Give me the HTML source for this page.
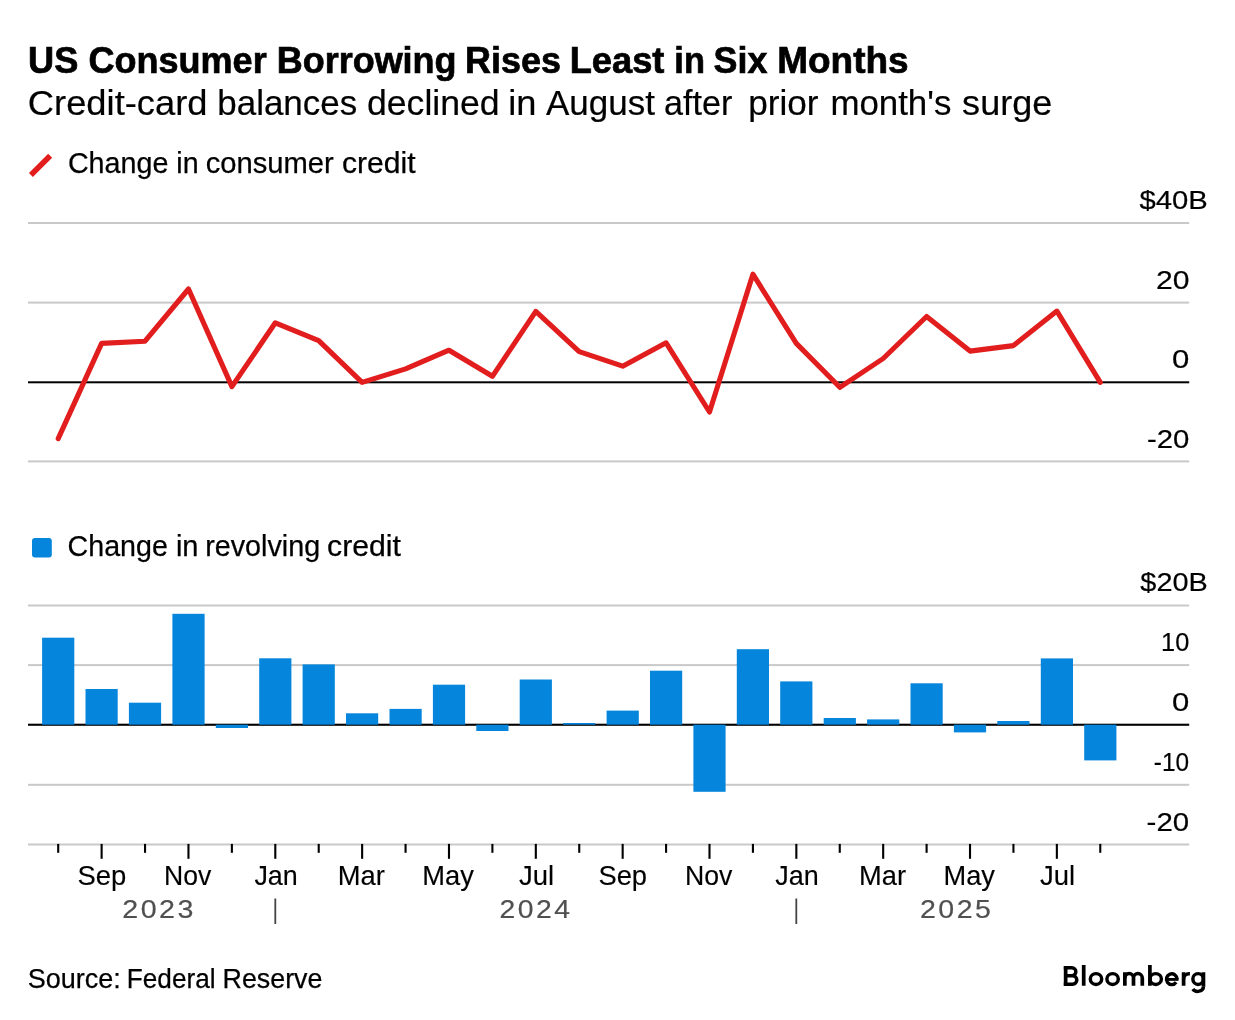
<!DOCTYPE html>
<html><head><meta charset="utf-8"><title>US Consumer Borrowing Rises Least in Six Months</title>
<style>html,body{margin:0;padding:0;background:#fff}body{width:1235px;height:1020px;position:relative;overflow:hidden;font-family:"Liberation Sans",sans-serif}</style>
</head><body>
<svg width="1235" height="1020" viewBox="0 0 1235 1020" style="position:absolute;left:0;top:0;will-change:transform">
<rect x="28" y="222" width="1161.2" height="2" fill="#c9c9c9"/>
<rect x="28" y="301.6" width="1161.2" height="2" fill="#c9c9c9"/>
<rect x="28" y="460.4" width="1161.2" height="2" fill="#c9c9c9"/>
<rect x="28" y="381.3" width="1161.2" height="2" fill="#000"/>
<polyline points="58.2,438.6 101.6,343.4 145.0,341.2 188.5,289.0 231.9,386.6 275.3,322.8 318.7,340.6 362.1,382.4 405.6,368.9 449.0,350.2 492.4,376.3 535.8,311.4 579.2,351.6 622.7,366.2 666.1,342.8 709.5,412.0 752.9,274.2 796.3,343.4 839.8,387.3 883.2,358.5 926.6,316.5 970.0,351.1 1013.4,345.6 1056.9,311.1 1100.3,382.3" fill="none" stroke="#e11e1d" stroke-width="5.1" stroke-linejoin="round" stroke-linecap="round"/>
<rect x="28" y="604.5" width="1161.2" height="2" fill="#c9c9c9"/>
<rect x="28" y="664.1" width="1161.2" height="2" fill="#c9c9c9"/>
<rect x="28" y="783.8" width="1161.2" height="2" fill="#c9c9c9"/>
<rect x="28" y="843.5" width="1161.2" height="2" fill="#c9c9c9"/>
<rect x="28" y="723.7" width="1161.2" height="2.1" fill="#000"/>
<rect x="42.1" y="637.7" width="32.2" height="87.0" fill="#0685dc"/>
<rect x="85.5" y="689.0" width="32.2" height="35.7" fill="#0685dc"/>
<rect x="128.9" y="702.7" width="32.2" height="22.0" fill="#0685dc"/>
<rect x="172.4" y="613.8" width="32.2" height="110.9" fill="#0685dc"/>
<rect x="215.8" y="724.7" width="32.2" height="3.3" fill="#0685dc"/>
<rect x="259.2" y="658.3" width="32.2" height="66.4" fill="#0685dc"/>
<rect x="302.6" y="664.4" width="32.2" height="60.3" fill="#0685dc"/>
<rect x="346.0" y="713.3" width="32.2" height="11.4" fill="#0685dc"/>
<rect x="389.5" y="708.9" width="32.2" height="15.8" fill="#0685dc"/>
<rect x="432.9" y="684.7" width="32.2" height="40.0" fill="#0685dc"/>
<rect x="476.3" y="724.7" width="32.2" height="6.3" fill="#0685dc"/>
<rect x="519.7" y="679.5" width="32.2" height="45.2" fill="#0685dc"/>
<rect x="563.1" y="723.0" width="32.2" height="1.7" fill="#0685dc"/>
<rect x="606.6" y="710.6" width="32.2" height="14.1" fill="#0685dc"/>
<rect x="650.0" y="670.7" width="32.2" height="54.0" fill="#0685dc"/>
<rect x="693.4" y="724.7" width="32.2" height="67.1" fill="#0685dc"/>
<rect x="736.8" y="649.2" width="32.2" height="75.5" fill="#0685dc"/>
<rect x="780.2" y="681.4" width="32.2" height="43.3" fill="#0685dc"/>
<rect x="823.7" y="718.0" width="32.2" height="6.7" fill="#0685dc"/>
<rect x="867.1" y="719.4" width="32.2" height="5.3" fill="#0685dc"/>
<rect x="910.5" y="683.3" width="32.2" height="41.4" fill="#0685dc"/>
<rect x="953.9" y="724.7" width="32.2" height="7.7" fill="#0685dc"/>
<rect x="997.3" y="721.0" width="32.2" height="3.7" fill="#0685dc"/>
<rect x="1040.8" y="658.4" width="32.2" height="66.3" fill="#0685dc"/>
<rect x="1084.2" y="724.7" width="32.2" height="35.7" fill="#0685dc"/>
<rect x="57.15" y="843.9" width="2.1" height="8.9" fill="#000"/>
<rect x="100.57" y="843.9" width="2.1" height="14.9" fill="#000"/>
<rect x="143.99" y="843.9" width="2.1" height="8.9" fill="#000"/>
<rect x="187.41" y="843.9" width="2.1" height="14.9" fill="#000"/>
<rect x="230.83" y="843.9" width="2.1" height="8.9" fill="#000"/>
<rect x="274.25" y="843.9" width="2.1" height="14.9" fill="#000"/>
<rect x="317.67" y="843.9" width="2.1" height="8.9" fill="#000"/>
<rect x="361.09" y="843.9" width="2.1" height="14.9" fill="#000"/>
<rect x="404.51" y="843.9" width="2.1" height="8.9" fill="#000"/>
<rect x="447.93" y="843.9" width="2.1" height="14.9" fill="#000"/>
<rect x="491.35" y="843.9" width="2.1" height="8.9" fill="#000"/>
<rect x="534.77" y="843.9" width="2.1" height="14.9" fill="#000"/>
<rect x="578.19" y="843.9" width="2.1" height="8.9" fill="#000"/>
<rect x="621.61" y="843.9" width="2.1" height="14.9" fill="#000"/>
<rect x="665.03" y="843.9" width="2.1" height="8.9" fill="#000"/>
<rect x="708.45" y="843.9" width="2.1" height="14.9" fill="#000"/>
<rect x="751.87" y="843.9" width="2.1" height="8.9" fill="#000"/>
<rect x="795.29" y="843.9" width="2.1" height="14.9" fill="#000"/>
<rect x="838.71" y="843.9" width="2.1" height="8.9" fill="#000"/>
<rect x="882.13" y="843.9" width="2.1" height="14.9" fill="#000"/>
<rect x="925.55" y="843.9" width="2.1" height="8.9" fill="#000"/>
<rect x="968.97" y="843.9" width="2.1" height="14.9" fill="#000"/>
<rect x="1012.39" y="843.9" width="2.1" height="8.9" fill="#000"/>
<rect x="1055.81" y="843.9" width="2.1" height="14.9" fill="#000"/>
<rect x="1099.23" y="843.9" width="2.1" height="8.9" fill="#000"/>
<rect x="274.4" y="898.5" width="1.8" height="25.5" fill="#444"/>
<rect x="795.4" y="898.5" width="1.8" height="25.5" fill="#444"/>
<g font-family="'Liberation Sans', sans-serif">
<text id="t0" x="28.07" y="73.3" font-size="36" font-weight="bold" fill="#000" stroke="#000" stroke-width="0.7" textLength="50.21" lengthAdjust="spacingAndGlyphs">US</text>
<text id="t1" x="88.57" y="73.3" font-size="36" font-weight="bold" fill="#000" stroke="#000" stroke-width="0.7" textLength="178.08" lengthAdjust="spacingAndGlyphs">Consumer</text>
<text id="t2" x="276.78" y="73.3" font-size="36" font-weight="bold" fill="#000" stroke="#000" stroke-width="0.7" textLength="179.73" lengthAdjust="spacingAndGlyphs">Borrowing</text>
<text id="t3" x="465.06" y="73.3" font-size="36" font-weight="bold" fill="#000" stroke="#000" stroke-width="0.7" textLength="95.86" lengthAdjust="spacingAndGlyphs">Rises</text>
<text id="t4" x="569.71" y="73.3" font-size="36" font-weight="bold" fill="#000" stroke="#000" stroke-width="0.7" textLength="94.69" lengthAdjust="spacingAndGlyphs">Least</text>
<text id="t5" x="674.35" y="73.3" font-size="36" font-weight="bold" fill="#000" stroke="#000" stroke-width="0.7" textLength="30.54" lengthAdjust="spacingAndGlyphs">in</text>
<text id="t6" x="713.57" y="73.3" font-size="36" font-weight="bold" fill="#000" stroke="#000" stroke-width="0.7" textLength="53.76" lengthAdjust="spacingAndGlyphs">Six</text>
<text id="t7" x="777.28" y="73.3" font-size="36" font-weight="bold" fill="#000" stroke="#000" stroke-width="0.7" textLength="131.33" lengthAdjust="spacingAndGlyphs">Months</text>
<text id="s0" x="27.86" y="115.3" font-size="34.2" fill="#000" stroke="#000" stroke-width="0.2" textLength="179.59" lengthAdjust="spacingAndGlyphs">Credit-card</text>
<text id="s1" x="217.30" y="115.3" font-size="34.2" fill="#000" stroke="#000" stroke-width="0.2" textLength="139.88" lengthAdjust="spacingAndGlyphs">balances</text>
<text id="s2" x="366.99" y="115.3" font-size="34.2" fill="#000" stroke="#000" stroke-width="0.2" textLength="132.67" lengthAdjust="spacingAndGlyphs">declined</text>
<text id="s3" x="508.27" y="115.3" font-size="34.2" fill="#000" stroke="#000" stroke-width="0.2" textLength="28.20" lengthAdjust="spacingAndGlyphs">in</text>
<text id="s4" x="545.94" y="115.3" font-size="34.2" fill="#000" stroke="#000" stroke-width="0.2" textLength="108.98" lengthAdjust="spacingAndGlyphs">August</text>
<text id="s5" x="664.07" y="115.3" font-size="34.2" fill="#000" stroke="#000" stroke-width="0.2" textLength="68.32" lengthAdjust="spacingAndGlyphs">after</text>
<text id="s6" x="748.17" y="115.3" font-size="34.2" fill="#000" stroke="#000" stroke-width="0.2" textLength="70.36" lengthAdjust="spacingAndGlyphs">prior</text>
<text id="s7" x="830.41" y="115.3" font-size="34.2" fill="#000" stroke="#000" stroke-width="0.2" textLength="120.90" lengthAdjust="spacingAndGlyphs">month&#39;s</text>
<text id="s8" x="962.13" y="115.3" font-size="34.2" fill="#000" stroke="#000" stroke-width="0.2" textLength="90.12" lengthAdjust="spacingAndGlyphs">surge</text>
<text id="la0" x="67.88" y="172.6" font-size="29" fill="#000" stroke="#000" stroke-width="0.25" textLength="100.46" lengthAdjust="spacingAndGlyphs">Change</text>
<text id="la1" x="176.36" y="172.6" font-size="29" fill="#000" stroke="#000" stroke-width="0.25" textLength="22.24" lengthAdjust="spacingAndGlyphs">in</text>
<text id="la2" x="205.72" y="172.6" font-size="29" fill="#000" stroke="#000" stroke-width="0.25" textLength="128.04" lengthAdjust="spacingAndGlyphs">consumer</text>
<text id="la3" x="341.94" y="172.6" font-size="29" fill="#000" stroke="#000" stroke-width="0.25" textLength="73.63" lengthAdjust="spacingAndGlyphs">credit</text>
<text id="lb0" x="67.53" y="555.6" font-size="29" fill="#000" stroke="#000" stroke-width="0.25" textLength="100.34" lengthAdjust="spacingAndGlyphs">Change</text>
<text id="lb1" x="175.91" y="555.6" font-size="29" fill="#000" stroke="#000" stroke-width="0.25" textLength="22.57" lengthAdjust="spacingAndGlyphs">in</text>
<text id="lb2" x="205.16" y="555.6" font-size="29" fill="#000" stroke="#000" stroke-width="0.25" textLength="115.07" lengthAdjust="spacingAndGlyphs">revolving</text>
<text id="lb3" x="327.04" y="555.6" font-size="29" fill="#000" stroke="#000" stroke-width="0.25" textLength="73.96" lengthAdjust="spacingAndGlyphs">credit</text>
<text id="y40" x="1139.41" y="208.7" font-size="26.4" fill="#000" stroke="#000" stroke-width="0.2" textLength="68.38" lengthAdjust="spacingAndGlyphs">$40B</text>
<text id="y20" x="1155.95" y="288.6" font-size="26.4" fill="#000" stroke="#000" stroke-width="0.2" textLength="33.51" lengthAdjust="spacingAndGlyphs">20</text>
<text id="y0" x="1171.97" y="368.2" font-size="26.4" fill="#000" stroke="#000" stroke-width="0.2" textLength="17.31" lengthAdjust="spacingAndGlyphs">0</text>
<text id="ym20" x="1146.93" y="448.0" font-size="26.4" fill="#000" stroke="#000" stroke-width="0.2" textLength="42.40" lengthAdjust="spacingAndGlyphs">-20</text>
<text id="b20" x="1140.38" y="591.3" font-size="26.4" fill="#000" stroke="#000" stroke-width="0.2" textLength="67.47" lengthAdjust="spacingAndGlyphs">$20B</text>
<text id="b10" x="1161.12" y="651.3" font-size="26.4" fill="#000" stroke="#000" stroke-width="0.2" textLength="28.18" lengthAdjust="spacingAndGlyphs">10</text>
<text id="b0" x="1172.13" y="710.9" font-size="26.4" fill="#000" stroke="#000" stroke-width="0.2" textLength="17.28" lengthAdjust="spacingAndGlyphs">0</text>
<text id="bm10" x="1153.79" y="770.8" font-size="26.4" fill="#000" stroke="#000" stroke-width="0.2" textLength="35.28" lengthAdjust="spacingAndGlyphs">-10</text>
<text id="bm20" x="1146.64" y="830.8" font-size="26.4" fill="#000" stroke="#000" stroke-width="0.2" textLength="42.50" lengthAdjust="spacingAndGlyphs">-20</text>
<text id="m1" x="77.39" y="884.9" font-size="28" fill="#000" stroke="#000" stroke-width="0.15" textLength="48.83" lengthAdjust="spacingAndGlyphs">Sep</text>
<text id="m3" x="164.02" y="884.9" font-size="28" fill="#000" stroke="#000" stroke-width="0.15" textLength="47.25" lengthAdjust="spacingAndGlyphs">Nov</text>
<text id="m5" x="254.38" y="884.9" font-size="28" fill="#000" stroke="#000" stroke-width="0.15" textLength="43.38" lengthAdjust="spacingAndGlyphs">Jan</text>
<text id="m7" x="337.84" y="884.9" font-size="28" fill="#000" stroke="#000" stroke-width="0.15" textLength="47.10" lengthAdjust="spacingAndGlyphs">Mar</text>
<text id="m9" x="422.35" y="884.9" font-size="28" fill="#000" stroke="#000" stroke-width="0.15" textLength="51.55" lengthAdjust="spacingAndGlyphs">May</text>
<text id="m11" x="519.04" y="884.9" font-size="28" fill="#000" stroke="#000" stroke-width="0.15" textLength="35.12" lengthAdjust="spacingAndGlyphs">Jul</text>
<text id="m13" x="598.44" y="884.9" font-size="28" fill="#000" stroke="#000" stroke-width="0.15" textLength="48.59" lengthAdjust="spacingAndGlyphs">Sep</text>
<text id="m15" x="685.02" y="884.9" font-size="28" fill="#000" stroke="#000" stroke-width="0.15" textLength="47.37" lengthAdjust="spacingAndGlyphs">Nov</text>
<text id="m17" x="775.37" y="884.9" font-size="28" fill="#000" stroke="#000" stroke-width="0.15" textLength="43.46" lengthAdjust="spacingAndGlyphs">Jan</text>
<text id="m19" x="859.10" y="884.9" font-size="28" fill="#000" stroke="#000" stroke-width="0.15" textLength="46.95" lengthAdjust="spacingAndGlyphs">Mar</text>
<text id="m21" x="943.53" y="884.9" font-size="28" fill="#000" stroke="#000" stroke-width="0.15" textLength="51.42" lengthAdjust="spacingAndGlyphs">May</text>
<text id="m23" x="1040.07" y="884.9" font-size="28" fill="#000" stroke="#000" stroke-width="0.15" textLength="35.14" lengthAdjust="spacingAndGlyphs">Jul</text>
<text id="yr2023" x="122.27" y="918.2" font-size="25.4" fill="#505050" stroke="#505050" stroke-width="0.2" letter-spacing="2.2" textLength="73.52" lengthAdjust="spacingAndGlyphs">2023</text>
<text id="yr2024" x="499.55" y="918.2" font-size="25.4" fill="#505050" stroke="#505050" stroke-width="0.2" letter-spacing="2.2" textLength="72.83" lengthAdjust="spacingAndGlyphs">2024</text>
<text id="yr2025" x="920.02" y="918.2" font-size="25.4" fill="#505050" stroke="#505050" stroke-width="0.2" letter-spacing="2.2" textLength="73.35" lengthAdjust="spacingAndGlyphs">2025</text>
<text id="src0" x="27.74" y="987.6" font-size="27" fill="#000" stroke="#000" stroke-width="0.25" textLength="93.15" lengthAdjust="spacingAndGlyphs">Source:</text>
<text id="src1" x="126.85" y="987.6" font-size="27" fill="#000" stroke="#000" stroke-width="0.25" textLength="88.70" lengthAdjust="spacingAndGlyphs">Federal</text>
<text id="src2" x="222.58" y="987.6" font-size="27" fill="#000" stroke="#000" stroke-width="0.25" textLength="99.84" lengthAdjust="spacingAndGlyphs">Reserve</text>
</g>
<line x1="30.9" y1="175.1" x2="50.2" y2="155.8" stroke="#e11e1d" stroke-width="5.6"/>
<rect x="32" y="538" width="19.8" height="19.6" rx="3" fill="#0685dc"/>
<g id="bbg" fill="none" stroke="#000" stroke-linejoin="miter">
<path stroke-width="3.7" d="M1065.65,966.2V985.8M1083.7,964.9V985.8M1124.85,972.3V985.8M1133.5,978V985.8M1142.3,978V985.8M1149.9,965V985.8M1183.6,972.3V985.8M1203.45,972.3V986.8"/>
<g stroke-width="3.45">
<path d="M1063.8,967.75H1071.9A3.95,3.95 0 0 1 1071.9,975.65H1065.6M1071.9,975.85h.7A4.2,4.2 0 0 1 1072.6,984.25H1063.8"/>
<ellipse cx="1096" cy="979.05" rx="5.7" ry="5.4"/>
<ellipse cx="1112.6" cy="979.05" rx="5.7" ry="5.4"/>
<path d="M1124.9,978.2A4.3,4.65 0 0 1 1133.5,978.2M1133.5,978.2A4.4,4.65 0 0 1 1142.3,978.2"/>
<ellipse cx="1155.7" cy="979.05" rx="5.7" ry="5.4"/>
<path d="M1183.6,979.2A5.4,5.4 0 0 1 1189,973.8h.9"/>
<ellipse cx="1198.1" cy="979.05" rx="5.25" ry="5.4"/>
<path d="M1203.45,986.6A5.7,4.65 0 0 1 1192.8,989"/>
<path d="M1177.05,979.2A5.3,5.4 0 1 0 1176.1,982.3"/>
</g>
<path stroke-width="2.9" d="M1166.4,979.4H1178.5"/>
</g>
</svg>
</body></html>
